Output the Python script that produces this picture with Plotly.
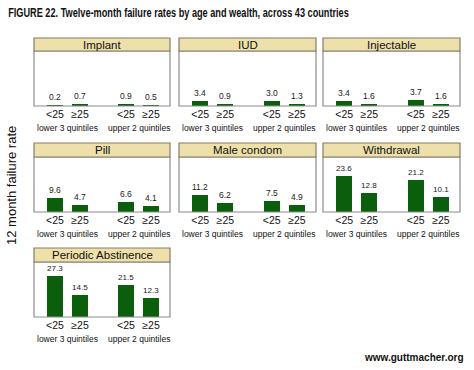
import plotly.graph_objects as go

W, H = 474, 370

methods = ["Implant", "IUD", "Injectable", "Pill", "Male condom", "Withdrawal", "Periodic Abstinence"]
age_labels = ["<25", "≥25", "<25", "≥25"]
wealth_groups = ["lower 3 quintiles", "upper 2 quintiles"]
rates = {
    "Implant": [0.2, 0.7, 0.9, 0.5],
    "IUD": [3.4, 0.9, 3.0, 1.3],
    "Injectable": [3.4, 1.6, 3.7, 1.6],
    "Pill": [9.6, 4.7, 6.6, 4.1],
    "Male condom": [11.2, 6.2, 7.5, 4.9],
    "Withdrawal": [23.6, 12.8, 21.2, 10.1],
    "Periodic Abstinence": [27.3, 14.5, 21.5, 12.3],
}
bar_pos = [0, 1, 2.84, 3.84]
group_pos = [0.5, 3.34]

cols = [(34, 170), (179, 316), (323, 460)]
rows = [(38, 51, 106), (143, 157, 212), (248, 262, 317)]

GREEN = "#0b5e0b"
STRIP = "#ede0aa"
STRIP_LINE = "#857c68"
BOX_LINE = "#8c8c8c"

fig = go.Figure()
shapes = []
annotations = []

def px_x(x):
    return x / W

def px_y(y):
    return 1 - y / H

for i, m in enumerate(methods):
    r, c = divmod(i, 3)
    x0, x1 = cols[c]
    top, hb, bot = rows[r]
    ax = "" if i == 0 else str(i + 1)
    fig.add_trace(go.Bar(
        x=bar_pos, y=rates[m], xaxis="x" + ax, yaxis="y" + ax,
        marker=dict(color=GREEN, line=dict(width=0)), width=0.64,
        text=[f"{v:.1f}" for v in rates[m]], textposition="outside",
        textfont=dict(size=8.5, color="#222", family="Liberation Sans"),
        cliponaxis=False, showlegend=False, hoverinfo="skip",
    ))
    fig.layout["xaxis" + ax] = dict(
        domain=[px_x(x0), px_x(x1)], range=[-0.84, 4.6], anchor="y" + ax,
        tickvals=bar_pos, ticktext=age_labels, ticks="", showgrid=False,
        zeroline=False, showline=False, fixedrange=True,
        tickfont=dict(size=10.5, color="#111", family="Liberation Sans"),
    )
    fig.layout["yaxis" + ax] = dict(
        domain=[px_y(bot), px_y(hb)], range=[0, 36.5], anchor="x" + ax,
        showticklabels=False, ticks="", showgrid=False, zeroline=False,
        showline=False, fixedrange=True,
    )
    shapes.append(dict(type="rect", xref="paper", yref="paper",
                       x0=px_x(x0), x1=px_x(x1), y0=px_y(bot), y1=px_y(hb),
                       line=dict(color=BOX_LINE, width=1.2), fillcolor="rgba(0,0,0,0)", layer="above"))
    shapes.append(dict(type="rect", xref="paper", yref="paper",
                       x0=px_x(x0), x1=px_x(x1), y0=px_y(hb), y1=px_y(top),
                       line=dict(color=STRIP_LINE, width=1.2), fillcolor=STRIP))
    annotations.append(dict(text=m, xref="paper", yref="paper",
                            x=px_x((x0 + x1) / 2), y=px_y((top + hb) / 2),
                            xanchor="center", yanchor="middle", showarrow=False,
                            font=dict(size=11.5, color="#111", family="Liberation Sans")))
    for g, gp in zip(wealth_groups, group_pos):
        annotations.append(dict(text=g, xref="x" + ax, yref="paper",
                                x=gp, y=px_y(bot + 22), xanchor="center", yanchor="middle",
                                showarrow=False,
                                font=dict(size=8.5, color="#111", family="Liberation Sans")))

annotations.append(dict(text="12 month failure rate", xref="paper", yref="paper",
                        x=px_x(11), y=px_y(186), textangle=-90, xanchor="center", yanchor="middle",
                        showarrow=False, font=dict(size=13, color="#111", family="Liberation Sans")))
annotations.append(dict(text="<b>FIGURE 22. Twelve-month failure rates by age and wealth, across 43 countries</b>",
                        xref="paper", yref="paper", x=px_x(6), y=px_y(12), xanchor="left", yanchor="middle",
                        showarrow=False,
                        font=dict(size=13.5, color="#111", family="Liberation Sans")))
annotations.append(dict(text="<b>www.guttmacher.org</b>", xref="paper", yref="paper",
                        x=px_x(466), y=px_y(357), xanchor="right", yanchor="middle",
                        showarrow=False, font=dict(size=10, color="#111", family="Liberation Sans")))

fig.update_layout(
    width=W, height=H, margin=dict(l=0, r=0, t=0, b=0),
    paper_bgcolor="white", plot_bgcolor="white",
    shapes=shapes, annotations=annotations, bargap=0,
)

post = """
document.body.style.margin='0';
function narrowTitle(){
  var gd=document.getElementById('{plot_id}');
  if(!gd) return;
  gd.querySelectorAll('.annotation-text').forEach(function(t){
    if(t.textContent.indexOf('FIGURE')===0){
      t.removeAttribute('transform');
      var bb=t.getBBox();
      if(bb.width>0){
        var s=341/bb.width;
        t.setAttribute('transform','translate('+bb.x+',0) scale('+s+',1) translate('+(-bb.x)+',0)');
      }
    }
  });
}
narrowTitle();
setTimeout(narrowTitle,50);
setTimeout(narrowTitle,300);
"""
fig.write_html("out.html", post_script=post, config={"displayModeBar": False})
